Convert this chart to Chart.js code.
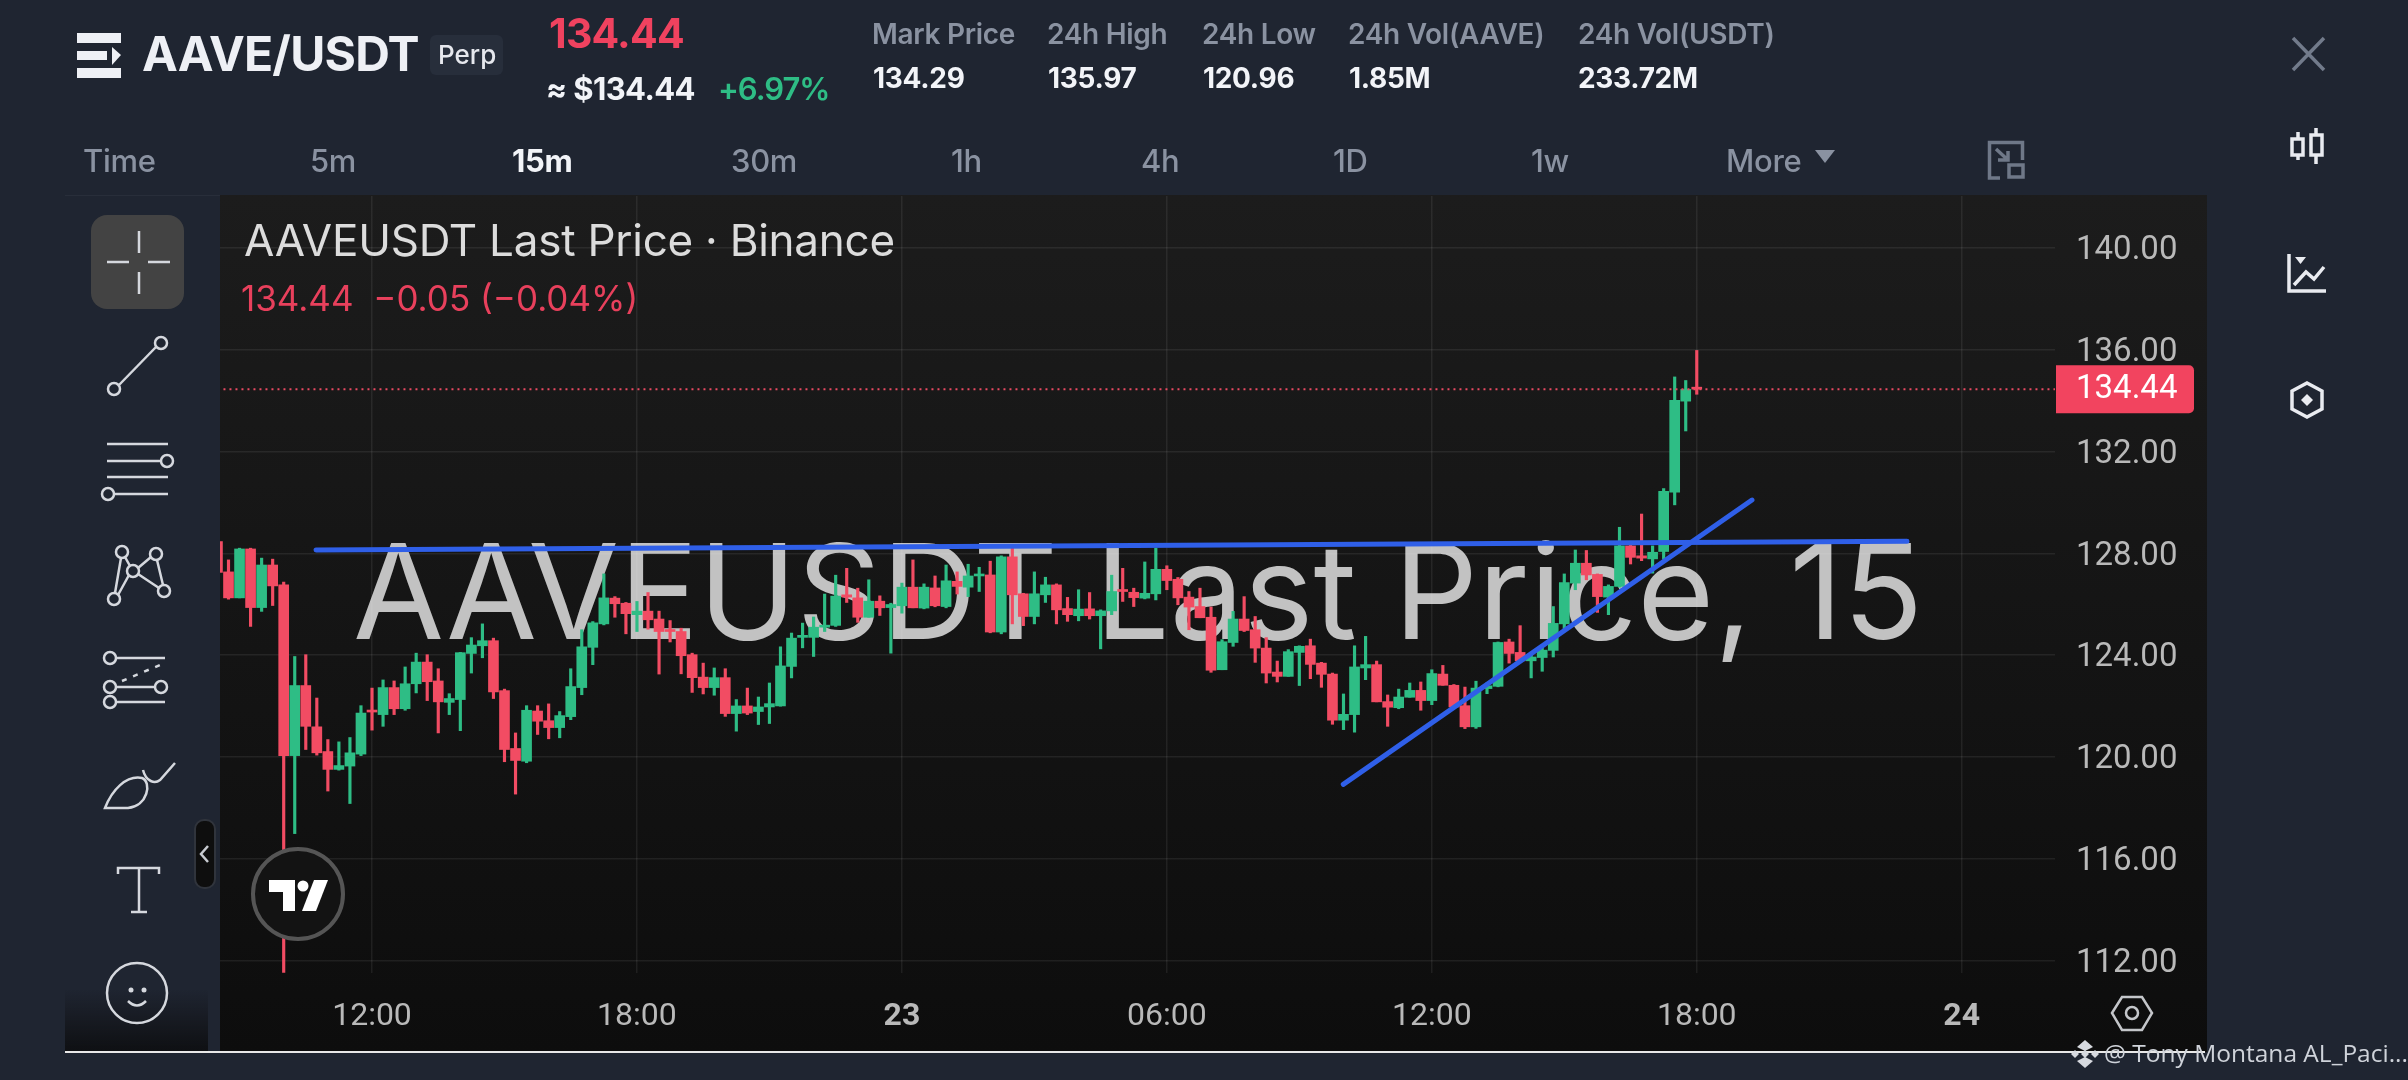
<!DOCTYPE html>
<html>
<head>
<meta charset="utf-8">
<title>AAVE/USDT</title>
<script src="https://cdn.jsdelivr.net/npm/chart.js@4"></script>
<style>
  html, body { margin: 0; padding: 0; width: 2408px; height: 1080px; overflow: hidden; background: #1f2531; font-family: Inter, sans-serif; }
  #panel { position: absolute; left: 220px; top: 195px; width: 1987px; height: 857px; background: linear-gradient(#1c1c1c, #0d0d0d); }
  #bar { position: absolute; left: 65px; top: 195px; width: 155px; height: 1px; background: #282e3a; }
  #rule { position: absolute; left: 65px; top: 1051px; width: 2140px; height: 1.5px; background: #e8e8e8; }
  canvas { position: absolute; left: 0; top: 0; }
  svg { position: absolute; left: 0; top: 0; }
  .t { position: absolute; white-space: nowrap; line-height: 1; transform: translateY(-50%); }
  .lbl { font-size: 28px; font-weight: 600; color: #8a92a1; letter-spacing: -0.3px; top: 34px; }
  .val { font-size: 28px; font-weight: 700; color: #f2f4f8; letter-spacing: -0.3px; top: 78px; }
  .tab { font-size: 31px; font-weight: 500; color: #8a92a1; top: 160px; letter-spacing: -0.3px; }
</style>
</head>
<body>
<div id="panel"></div>
<div id="bar"></div>
<div class="t" id="watermark" style="left:353px;top:591px;font-size:132px;color:#c2c2c2">AAVEUSDT Last Price, 15</div>
<canvas id="chart" width="2408" height="1080"></canvas>

<div class="t" style="left:142px;top:54px;font-size:48px;font-weight:700;color:#eef0f5;letter-spacing:-0.8px">AAVE/USDT</div>
<div style="position:absolute;left:430px;top:35px;width:73px;height:40px;background:#272e3b;border-radius:6px"></div>
<div class="t" style="left:438px;top:55px;font-size:26px;font-weight:500;color:#e6e8ee">Perp</div>
<div class="t" style="left:549px;top:33px;font-size:41px;font-weight:700;color:#f0425f;letter-spacing:-0.8px">134.44</div>
<div class="t" style="left:546px;top:88px;font-size:31px;font-weight:700;color:#f2f4f8;letter-spacing:-0.6px">≈ $134.44</div>
<div class="t" style="left:718px;top:88px;font-size:31px;font-weight:600;color:#2ebd85;letter-spacing:-1px">+6.97%</div>

<div class="t lbl" style="left:872px">Mark Price</div><div class="t val" style="left:873px">134.29</div>
<div class="t lbl" style="left:1047px">24h High</div><div class="t val" style="left:1048px">135.97</div>
<div class="t lbl" style="left:1202px">24h Low</div><div class="t val" style="left:1203px">120.96</div>
<div class="t lbl" style="left:1348px">24h Vol(AAVE)</div><div class="t val" style="left:1349px">1.85M</div>
<div class="t lbl" style="left:1578px">24h Vol(USDT)</div><div class="t val" style="left:1578px">233.72M</div>

<div class="t tab" style="left:83px">Time</div>
<div class="t tab" style="left:310px">5m</div>
<div class="t tab" style="left:512px;color:#f2f4f8;font-weight:700">15m</div>
<div class="t tab" style="left:731px">30m</div>
<div class="t tab" style="left:951px">1h</div>
<div class="t tab" style="left:1141px">4h</div>
<div class="t tab" style="left:1333px">1D</div>
<div class="t tab" style="left:1531px">1w</div>
<div class="t tab" style="left:1726px">More</div>

<div class="t" style="left:244px;top:240px;font-size:44px;letter-spacing:-0.25px;color:#dcdcdc">AAVEUSDT Last Price · Binance</div>
<div class="t" style="left:241px;top:298px;font-size:35px;color:#e8405c">134.44&nbsp; −0.05 (−0.04%)</div>

<svg width="2408" height="1080" viewBox="0 0 2408 1080" fill="none">
  <defs><linearGradient id="fade" x1="0" y1="0" x2="0" y2="1"><stop offset="0" stop-color="#0f1013" stop-opacity="0"/><stop offset="1" stop-color="#0f1013"/></linearGradient></defs>
  <!-- header icon -->
  <g fill="#eef0f5"><rect x="77" y="33" width="44" height="10"/><rect x="77" y="51" width="30" height="9"/><polygon points="112,47 121,55 112,65"/><rect x="77" y="68" width="44" height="10"/></g>
  <polygon points="1815,150 1835,150 1825,163" fill="#8a92a1"/>
  <g stroke="#6f7888" stroke-width="3.5"><path d="M2000 178H1989.500V142.500H2022.500V160"/><rect x="2009" y="165" width="14" height="12"/><path d="M1996 149L2008 160M2008 151V160H1998"/></g>
  <path d="M2293 38L2324 70M2324 38L2293 70" stroke="#727b8b" stroke-width="3.5"/>
  <g stroke="#e9ebf0" stroke-width="3.5">
    <rect x="2292" y="139" width="11" height="16"/><path d="M2298 132V139M2298 155V160"/>
    <rect x="2311" y="135" width="11" height="20"/><path d="M2316 128V135M2316 155V164"/>
    <path d="M2289 254V291H2326"/><path d="M2294 285L2306 272L2314 279L2324 267"/>
    <polygon points="2307,383 2322,391 2322,409 2307,417 2292,409 2292,391"/>
  </g>
  <polygon points="2295,257 2306,257 2300.500,264" fill="#e9ebf0"/>
  <polygon points="2307,394 2313,400 2307,406 2301,400" fill="#e9ebf0"/>

  <!-- toolbar -->
  <rect x="65" y="990" width="143" height="61" fill="url(#fade)"/>
  <rect x="91" y="215" width="93" height="94" rx="16" fill="#434343"/>
  <g stroke="#d5d8de" stroke-width="2.500">
    <path d="M107 262H129M148 262H170M139 231V253M139 272V294"/>
    <circle cx="114" cy="389" r="6"/><circle cx="161" cy="343" r="6"/><path d="M119 385L156 347"/>
    <path d="M107 444H168M107 461H161M107 477H168M114 494H168"/><circle cx="167" cy="461" r="6"/><circle cx="108" cy="494" r="6"/>
    <circle cx="122" cy="552" r="6"/><circle cx="156" cy="554" r="6"/><circle cx="133" cy="571" r="6"/><circle cx="114" cy="599" r="6"/><circle cx="164" cy="591" r="6"/>
    <path d="M121 558L115 593M125 557L130 566M118 595L129 575M138 568L151 557M157 560L163 585M138 574L159 588"/>
    <circle cx="110" cy="658" r="6"/><path d="M116 658H165"/><circle cx="110" cy="687" r="6"/><circle cx="161" cy="687" r="6"/><path d="M116 687H155"/><circle cx="110" cy="702" r="6"/><path d="M116 702H165"/>
    <path d="M122 681L160 665" stroke-dasharray="5 7"/>
    <path d="M105 808C112 790 126 775 142 778C152 782 148 806 128 808Z"/><path d="M143 770C146 782 155 784 160 780L175 763"/>
    <path d="M118 874V868H159V874M139 868V912M131 912H147"/>
    <circle cx="137" cy="993" r="30"/><path d="M128 1001Q137 1010 146 1001"/>
  </g>
  <circle cx="131" cy="990" r="2.500" fill="#d5d8de"/><circle cx="144" cy="990" r="2.500" fill="#d5d8de"/>
  <rect x="195" y="820" width="20" height="68" rx="9" fill="#0e0e0e" stroke="#30343c" stroke-width="2"/>
  <path d="M208 846L201 854L208 862" stroke="#c8cbd1" stroke-width="2.500"/>

  <!-- tradingview badge -->
  <circle cx="298" cy="894" r="45" fill="#131313" stroke="#555" stroke-width="4"/>
  <g fill="#fff"><polygon points="269,880 295,880 295,911 283,911 283,892 269,892"/><polygon points="314,880 328,880 316,911 302,911"/><circle cx="303" cy="886" r="5.500"/></g>

  <!-- scale settings -->
  <polygon points="2112,1013 2122,997 2142,997 2152,1013 2142,1030 2122,1030" stroke="#c4c6ca" stroke-width="2.500"/>
  <circle cx="2132" cy="1013" r="6" stroke="#c4c6ca" stroke-width="2.500"/>
</svg>
<div id="rule"></div>
<svg width="2408" height="1080" viewBox="0 0 2408 1080">
  <g fill="#d6d9df"><polygon points="2085,1040 2093,1047 2085,1051 2077,1047"/><polygon points="2085,1068 2093,1061 2085,1057 2077,1061"/><polygon points="2075,1050 2079,1054 2075,1058 2071,1054"/><polygon points="2095,1050 2099,1054 2095,1058 2091,1054"/><polygon points="2085,1050 2089,1054 2085,1058 2081,1054"/></g>
</svg>
<div class="t" style="left:2104px;top:1053px;font-family:'Open Sans';font-size:24.5px;color:#cfd3da">@ Tony Montana AL_Paci...</div>

<script>
// 15m candles, x is the bar number counted from 12:00 on the 22nd
const firstBar = -14;
const opens = [128.46,127.27,126.25,128.17,125.87,127.54,126.76,120.06,122.81,121.19,
  120.22,119.52,119.65,120.12,121.81,121.67,122.73,121.90,122.88,123.73,
  122.99,122.15,122.26,124.07,124.37,124.57,122.61,120.34,119.84,121.81,
  121.43,121.16,121.59,122.73,124.31,125.23,126.24,126.04,125.59,125.73,
  125.42,124.97,124.93,124.02,123.14,122.73,123.12,121.71,122.01,121.79,
  121.97,122.01,123.56,124.70,124.70,125.10,125.17,126.37,126.25,125.49,
  126.12,125.87,125.94,126.67,125.85,126.64,125.91,126.90,126.67,127.11,
  127.15,124.91,127.86,126.41,125.52,126.37,126.76,125.83,125.55,125.82,
  125.55,125.74,126.57,126.47,126.24,126.41,127.37,126.98,126.28,125.91,
  125.49,123.43,124.50,125.42,125.00,124.28,123.34,123.17,124.11,124.37,
  123.69,123.26,121.45,121.67,123.50,123.63,122.18,121.94,122.35,122.62,
  122.22,123.26,122.82,122.02,121.19,122.69,122.78,124.52,124.11,123.78,
  123.91,124.19,125.23,126.83,127.61,127.17,126.28,126.70,128.29,127.90,
  127.78,128.07,130.40,133.97,134.47];
const highs = [128.46,127.74,128.20,128.20,127.81,127.77,126.87,123.95,124.02,122.32,
  120.69,120.60,120.77,122.02,122.71,123.03,122.99,123.54,124.08,124.02,
  123.47,122.49,124.11,124.69,125.23,124.67,122.67,120.95,122.02,122.02,
  122.09,121.79,123.47,125.00,125.32,127.19,126.30,126.07,126.11,126.46,
  125.73,125.36,125.06,124.08,123.69,123.50,123.47,122.26,122.71,122.36,
  122.91,124.33,124.87,125.26,125.50,126.40,127.14,127.41,126.63,126.96,
  126.33,126.04,126.83,127.74,126.80,127.11,127.54,127.27,127.57,127.45,
  127.69,127.90,128.31,126.43,127.27,127.06,126.80,126.27,126.57,126.46,
  125.78,127.14,127.41,126.63,127.66,128.20,127.51,127.05,126.50,126.63,
  125.89,124.61,125.72,126.30,125.52,124.69,123.77,124.22,124.37,124.63,
  123.72,123.30,122.48,124.37,124.74,123.77,122.44,122.67,122.91,122.95,
  123.43,123.60,122.85,122.75,122.98,122.91,124.52,124.63,125.16,124.02,
  124.35,125.91,127.19,128.13,128.11,127.19,126.76,129.02,128.46,129.54,
  128.29,130.54,134.92,134.78,135.96];
const lows = [127.25,126.20,126.25,125.13,125.72,125.95,111.55,117.00,120.30,120.08,
  118.67,119.49,118.18,120.06,121.06,121.21,121.67,121.84,122.52,122.22,
  120.95,121.67,121.04,123.30,123.90,122.30,119.82,118.55,119.78,120.89,
  120.72,120.76,121.47,122.45,123.63,125.19,125.49,124.84,124.93,125.02,
  123.26,124.52,123.27,122.54,122.48,122.43,121.60,121.02,121.67,121.28,
  121.32,122.00,123.11,124.29,123.95,124.93,125.13,126.07,125.29,125.49,
  125.56,124.08,125.65,125.86,125.82,125.90,125.86,126.40,126.30,126.50,
  124.88,124.84,125.23,125.16,125.23,126.07,125.23,125.33,125.35,125.42,
  124.25,125.59,126.11,125.91,126.21,126.17,126.57,125.98,125.00,125.47,
  123.33,123.43,124.35,124.93,123.72,122.91,122.95,123.17,122.81,123.08,
  122.74,121.29,121.08,120.98,123.04,122.17,121.21,121.90,122.35,121.84,
  122.06,122.82,121.97,121.12,121.13,122.49,122.76,123.69,123.76,123.11,
  123.37,123.93,124.93,126.57,126.96,125.68,125.59,126.67,127.58,127.71,
  127.22,127.77,129.90,132.80,134.24];
const closes = [127.25,126.25,128.17,125.87,127.54,126.72,120.06,122.81,121.21,120.17,
  119.52,119.67,120.17,121.73,121.77,122.73,121.90,122.88,123.73,122.96,
  122.17,122.30,124.10,124.40,124.57,122.56,120.30,119.87,121.84,121.41,
  121.16,121.63,122.77,124.33,125.27,126.25,126.02,125.63,125.73,125.39,
  124.93,124.93,123.98,123.12,122.73,123.12,121.71,122.01,121.73,121.97,
  122.10,123.58,124.67,124.78,125.10,125.18,126.32,126.28,125.49,126.12,
  125.86,125.99,126.67,125.86,126.67,125.94,126.92,126.70,127.11,127.17,
  124.91,127.86,126.37,125.52,126.41,126.76,125.78,125.59,125.81,125.55,
  125.74,126.50,126.50,126.26,126.43,127.37,126.93,126.25,125.89,125.47,
  123.41,124.53,125.42,124.97,124.28,123.30,123.17,124.14,124.35,123.64,
  123.25,121.45,121.68,123.54,123.63,122.17,121.96,122.36,122.62,122.22,
  123.28,122.82,121.97,121.19,122.71,122.80,124.50,124.07,123.78,123.93,
  124.20,125.25,126.85,127.61,127.15,126.30,126.70,128.29,127.84,127.81,
  128.04,130.43,134.00,134.43,134.44];

const priceTicks = [112,116,120,124,128,132,136,140];
const timeTicks = [0,24,48,72,96,120,144];
const timeLabels = ["12:00","18:00","23","06:00","12:00","18:00","24"];
const dayTicks = [48,144];
const lastPrice = 134.44;

// hand drawn trend lines
const flatLineX = [-5.07,139.04];
const flatLineY = [128.13,128.47];
const riseLineX = [87.98,125];
const riseLineY = [118.93,130.09];

const UP = "#2ebd85", DOWN = "#f24c63", BLUE = "#2f5fe8", GRID = "rgba(255,255,255,0.075)";
const barX = i => firstBar + i;
const colors = opens.map((o, i) => closes[i] >= o ? UP : DOWN);
const pairs = (xs, ys) => xs.map((x, i) => ({ x, y: ys[i] }));

const priceTag = {
  id: "priceTag",
  afterDraw(chart) {
    const { ctx, scales } = chart;
    const y = scales.y.getPixelForValue(lastPrice);
    ctx.save();
    ctx.fillStyle = "#f2445f";
    ctx.beginPath();
    ctx.roundRect(2056, y - 24, 138, 48, [0, 5, 5, 0]);
    ctx.fill();
    ctx.fillStyle = "#fff";
    ctx.font = "33px Roboto";
    ctx.textBaseline = "middle";
    ctx.fillText(lastPrice.toFixed(2), 2076, y + 1);
    ctx.restore();
  },
};

new Chart(document.getElementById("chart"), {
  data: {
    datasets: [
      { type: "line", data: pairs(flatLineX, flatLineY), borderColor: BLUE, borderWidth: 5, borderCapStyle: "round", pointRadius: 0, order: 1 },
      { type: "line", data: pairs(riseLineX, riseLineY), borderColor: BLUE, borderWidth: 5, borderCapStyle: "round", pointRadius: 0, order: 1 },
      { type: "line", data: pairs([-14,152.5], [lastPrice,lastPrice]), borderColor: "#e84a62", borderWidth: 2, borderDash: [2,4], pointRadius: 0, order: 2 },
      { type: "bar", data: opens.map((o, i) => ({ x: barX(i), y: [o, closes[i]] })), backgroundColor: colors, barThickness: 10, minBarLength: 2, grouped: false, order: 3 },
      { type: "bar", data: lows.map((l, i) => ({ x: barX(i), y: [l, highs[i]] })), backgroundColor: colors, barThickness: 2.5, grouped: false, order: 4 },
    ],
  },
  options: {
    responsive: false, animation: false, events: [],
    layout: { padding: { left: 220, top: 196, right: 201, bottom: 29 } },
    plugins: { legend: { display: false }, tooltip: { enabled: false } },
    scales: {
      x: {
        type: "linear", offset: false, min: -13.77, max: 152.45,
        afterBuildTicks(s) { s.ticks = timeTicks.map(value => ({ value })); },
        afterFit(s) { s.height = 78; },
        grid: { color: GRID, lineWidth: 1.5, offset: false, drawTicks: false },
        border: { display: false },
        ticks: {
          color: "#b9b9b9", padding: 25, autoSkip: false, maxRotation: 0,
          font: c => ({ family: "Roboto", size: 32, weight: c.tick && dayTicks.includes(c.tick.value) ? "700" : "400" }),
          callback: v => timeLabels[timeTicks.indexOf(v)],
        },
      },
      y: {
        position: "right", min: 111.53, max: 142.02,
        afterBuildTicks(s) { s.ticks = priceTicks.map(value => ({ value })); },
        afterFit(s) { s.width = 152; },
        grid: { color: GRID, lineWidth: 1.5, drawTicks: false },
        border: { display: false },
        ticks: { color: "#b9b9b9", padding: 21, labelOffset: 3, font: { family: "Roboto", size: 33 }, callback: v => v.toFixed(2) },
      },
    },
  },
  plugins: [priceTag],
});
</script>
</body>
</html>
